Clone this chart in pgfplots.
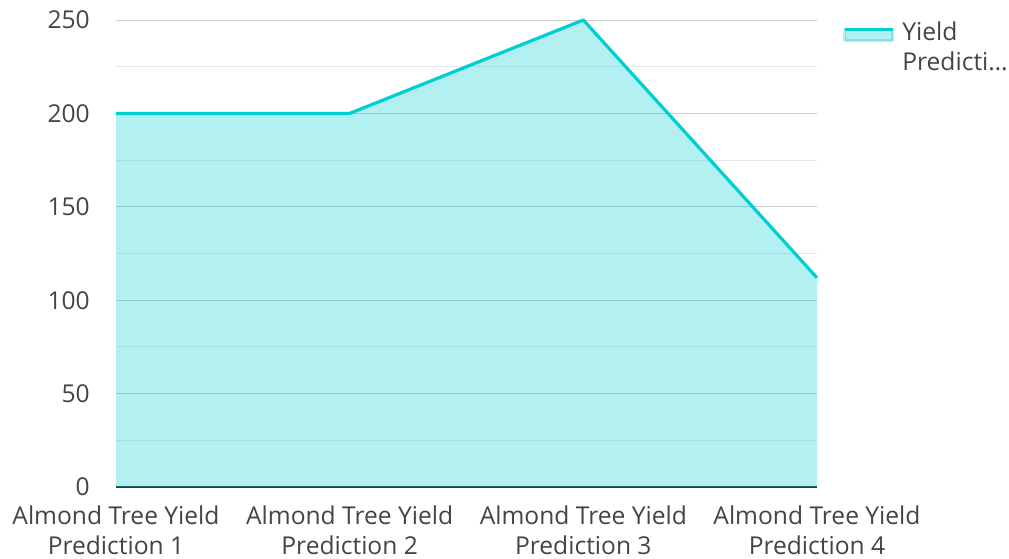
\documentclass[border=0pt]{standalone}
\usepackage{fontspec}
\setmainfont{Open Sans}
\usepackage{pgfplots}
\pgfplotsset{compat=1.18}
\definecolor{linec}{HTML}{00CED1}
\definecolor{majg}{HTML}{CCCCCC}
\definecolor{ming}{HTML}{E8E8E8}
\definecolor{txt}{HTML}{444444}
\definecolor{axc}{HTML}{333333}
\begin{document}
\begin{tikzpicture}
\useasboundingbox (-116pt,-71pt) rectangle (893pt,487pt);
\begin{axis}[
  at={(0pt,0pt)}, anchor=south west,
  scale only axis, width=701pt, height=467pt,
  xmin=0, xmax=3, ymin=0, ymax=250,
  clip=false,
  xtick={0,1,2,3},
  xticklabels={{Almond Tree Yield\\Prediction 1},{Almond Tree Yield\\Prediction 2},{Almond Tree Yield\\Prediction 3},{Almond Tree Yield\\Prediction 4}},
  ytick={0,50,100,150,200,250},
  minor ytick={25,75,125,175,225},
  ymajorgrids, yminorgrids,
  major grid style={majg, line width=1pt},
  minor grid style={ming, line width=1pt},
  axis x line*=bottom, axis y line*=left,
  y axis line style={draw=none},
  x axis line style={axc, line width=2pt, -},
  major tick length=0pt, minor tick length=0pt,
  tick style={draw=none},
  /pgf/number format/assume math mode=true,
  ticklabel style={font=\fontsize{24.6}{30}\selectfont, text=txt},
  yticklabel style={inner sep=0pt, xshift=-26pt},
  xticklabel style={align=center, inner sep=0pt, yshift=-19pt},
  legend style={at={(1.037,1.0)}, anchor=north west, draw=none, fill=none,
    font=\fontsize{24.6}{30}\selectfont, text=txt, inner sep=0pt,
    nodes={align=left},
    /tikz/every odd column/.append style={column sep=6pt}},
  legend cell align=left,
  legend image code/.code={%
    \fill[linec, opacity=0.3] (0pt,6.5pt) rectangle (48pt,18pt);
    \draw[linec, line width=3.2pt] (0pt,18pt) -- (48pt,18pt);},
]
\addplot[draw=none, fill=linec, fill opacity=0.3, forget plot]
  coordinates {(0,200) (1,200) (2,250) (3,112)} \closedcycle;
\addplot[linec, line width=3.2pt, line join=round]
  coordinates {(0,200) (1,200) (2,250) (3,112)};
\addlegendentry{Yield\\Predicti…}
\end{axis}
\end{tikzpicture}
\end{document}
